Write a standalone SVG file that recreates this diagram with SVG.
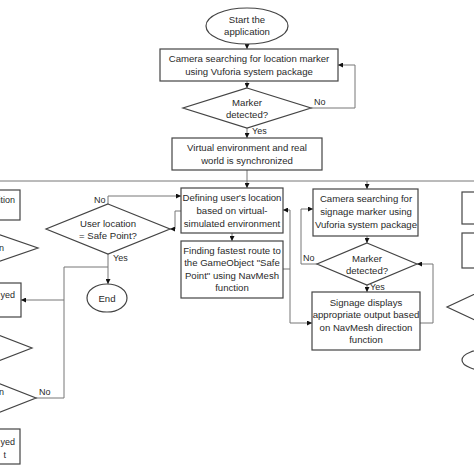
<svg xmlns="http://www.w3.org/2000/svg" width="474" height="474" viewBox="0 0 474 474">
<defs>
<marker id="ah" viewBox="0 0 6 6" refX="6" refY="3" markerWidth="5" markerHeight="5" orient="auto" markerUnits="userSpaceOnUse">
<path d="M0,0 L6,3 L0,6 z" fill="#111"/>
</marker>
<style>
.n{fill:#fff;stroke:#444;stroke-width:1.2}
.t{font-family:"Liberation Sans",Arial,sans-serif;font-size:9.6px;fill:#2a2a2a;text-anchor:middle}
.l{font-family:"Liberation Sans",Arial,sans-serif;font-size:9px;fill:#2a2a2a}
.c{fill:none;stroke:#777;stroke-width:1}
.a{marker-end:url(#ah)}
</style>
</defs>
<rect width="474" height="474" fill="#fff"/>
<g id="connectors">
<path class="c a" d="M247,44 V49"/>
<path class="c a" d="M247,81 V88"/>
<path class="c a" d="M311,108 H355 V65 H338"/>
<path class="c a" d="M247,128 V138"/>
<path class="c" d="M247,170 V181"/>
<path class="c" d="M0,181 H474" stroke="#999"/>
<path class="c a" d="M247,181 V188"/>
<path class="c a" d="M367,181 V189"/>
<path class="c a" d="M108,204 V196 H181"/>
<path class="c a" d="M181,211 H175 V229 H170"/>
<path class="c a" d="M232,233 V241"/>
<path class="c" d="M283,269 H290"/>
<path class="c a" d="M290,269 V210 H283"/>
<path class="c a" d="M290,269 V323 H312"/>
<path class="c a" d="M367,236 V243"/>
<path class="c a" d="M317,264 H301 V209 H313"/>
<path class="c a" d="M367,285 V292"/>
<path class="c a" d="M420,323 H433 V264 H417"/>
<path class="c a" d="M108,254 V284"/>
<path class="c" d="M108,267 H64 V398 H36"/>
<path class="c a" d="M64,300 H21"/>
<text class="l" x="314" y="105">No</text>
<text class="l" x="252" y="134">Yes</text>
<text class="l" x="94" y="203">No</text>
<text class="l" x="113" y="261">Yes</text>
<text class="l" x="303" y="261">No</text>
<text class="l" x="370" y="290">Yes</text>
<text class="l" x="39" y="395">No</text>
</g>
<g id="start"><ellipse class="n" cx="247" cy="26" rx="41" ry="18"/><text class="t" x="247" y="23">Start the</text><text class="t" x="247" y="35">application</text></g>
<g id="camera-location"><rect class="n" x="160" y="49" width="178" height="32"/><text class="t" x="249" y="62">Camera searching for location marker</text><text class="t" x="249" y="75">using Vuforia system package</text></g>
<g id="marker-detected-1"><polygon class="n" points="247,88 311,108 247,128 183,108"/><text class="t" x="247" y="106">Marker</text><text class="t" x="247" y="118">detected?</text></g>
<g id="synchronized"><rect class="n" x="172" y="138" width="150" height="32"/><text class="t" x="247" y="151">Virtual environment and real</text><text class="t" x="247" y="164">world is synchronized</text></g>
<g id="defining"><rect class="n" x="181" y="188" width="102" height="45"/><text class="t" x="232" y="201">Defining user's location</text><text class="t" x="232" y="214">based on virtual-</text><text class="t" x="232" y="227">simulated environment</text></g>
<g id="finding"><rect class="n" x="181" y="241" width="102" height="57"/><text class="t" x="232" y="254">Finding fastest route to</text><text class="t" x="232" y="266">the GameObject "Safe</text><text class="t" x="232" y="279">Point" using NavMesh</text><text class="t" x="232" y="291">function</text></g>
<g id="user-location"><polygon class="n" points="108,204 170,229 108,254 46,229"/><text class="t" x="108" y="227">User location</text><text class="t" x="108" y="239">= Safe Point?</text></g>
<g id="end"><ellipse class="n" cx="107" cy="298" rx="20" ry="14"/><text class="t" x="107" y="302">End</text></g>
<g id="camera-signage"><rect class="n" x="313" y="189" width="105" height="47"/><text class="t" x="366" y="202">Camera searching for</text><text class="t" x="366" y="215">signage marker using</text><text class="t" x="366" y="228">Vuforia system package</text></g>
<g id="marker-detected-2"><polygon class="n" points="367,243 417,264 367,285 317,264"/><text class="t" x="367" y="262">Marker</text><text class="t" x="367" y="274">detected?</text></g>
<g id="signage-displays"><rect class="n" x="312" y="292" width="108" height="58"/><text class="t" x="366" y="306">Signage displays</text><text class="t" x="366" y="318">appropriate output based</text><text class="t" x="366" y="331">on NavMesh direction</text><text class="t" x="366" y="343">function</text></g>
<g id="left-box-1"><rect class="n" x="-10" y="190" width="30" height="30"/><text class="l" x="15" y="203" text-anchor="end">ition</text></g>
<g id="left-diamond-1"><polygon class="n" points="-20,228 38,248 -20,268 -78,248"/><text class="l" x="4" y="251" text-anchor="end">n</text></g>
<g id="left-box-2"><rect class="n" x="-10" y="283" width="31" height="34"/><text class="l" x="15" y="298" text-anchor="end">yed</text></g>
<g id="left-diamond-2"><polygon class="n" points="-20,328 32,348 -20,368 -72,348"/></g>
<g id="left-diamond-3"><polygon class="n" points="-20,376 36,398 -20,420 -76,398"/><text class="l" x="4" y="395" text-anchor="end">n</text></g>
<g id="left-box-3"><rect class="n" x="-10" y="429" width="30" height="35"/><text class="l" x="15" y="445" text-anchor="end">yed</text><text class="l" x="6" y="458" text-anchor="end">t</text></g>
<g id="right-box-1"><rect class="n" x="462" y="192" width="30" height="32"/></g>
<g id="right-box-2"><rect class="n" x="462" y="233" width="30" height="35"/></g>
<g id="right-diamond"><polygon class="n" points="490,287 533,307 490,327 447,307"/></g>
<g id="right-ellipse"><ellipse class="n" cx="490" cy="360" rx="28" ry="11"/></g>
</svg>
